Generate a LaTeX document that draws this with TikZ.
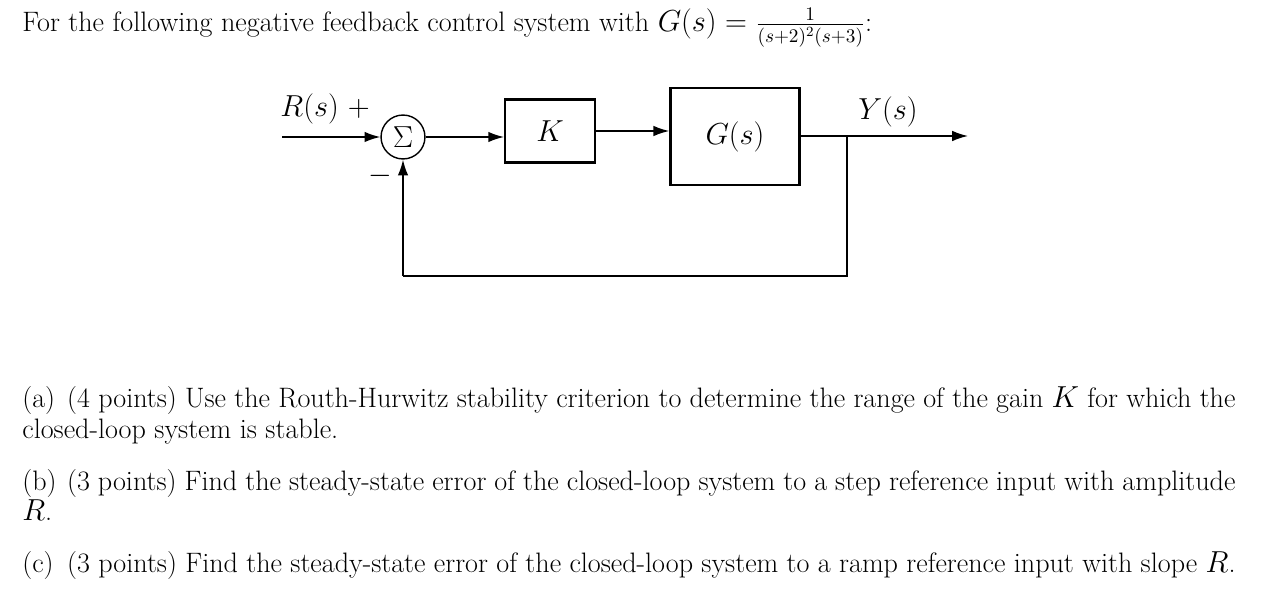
\documentclass[tikz,border=0pt]{standalone}
\usetikzlibrary{arrows.meta}
\newcommand{\qitem}[2]{\hangindent=25.5pt\hangafter=1\noindent\makebox[25.5pt][l]{#1}#2}
\begin{document}
\begin{tikzpicture}[x=0.02cm,y=-0.02cm,
  txt/.style={inner sep=0pt,font=\fontsize{16}{17.6}\selectfont},
  par/.style={txt,anchor=base west,text width=690.5pt,align=justify},
  blk/.style={draw,line width=1.3pt,inner sep=0pt},
  sig/.style={line width=0.9pt},
  arr/.style={sig,-{Latex[length=9pt,width=6pt]}},
  lab/.style={inner sep=0pt,font=\fontsize{17}{20}\selectfont}]
\useasboundingbox (0,0) rectangle (1270,597);
\node[txt,anchor=base west] (title) at (22,32) {For the following negative feedback control system with $G(s)=\frac{1}{(s+2)^2(s+3)}$:};
% diagram
\node[draw,circle,line width=0.8pt,minimum size=25pt,inner sep=0pt,lab] (sum) at (403,137) {$\Sigma$};
\node[blk,minimum width=51pt,minimum height=36pt,lab] (K) at (550,131) {$K$};
\node[blk,minimum width=73.5pt,minimum height=55pt,lab] (G) at (735,136.5) {$G(s)$};
\coordinate (in) at (282,137);
\coordinate (out) at (968,136);
\coordinate (br) at (847,136);
\coordinate (bot) at (847,276);
\coordinate (botl) at (403,276);
\draw[arr] (in) -- (sum);
\draw[arr] (sum.east) -- (K.west |- sum.east);
\draw[arr] (K.east) -- (G.west |- K.east);
\draw[arr] (G.east |- out) -- (out);
\draw[sig] (br) -- (bot) -- (botl);
\draw[arr] (botl) -- (sum);
\node[lab,anchor=base] (rl) at (325,117) {$R(s)$ $+$};
\node[lab,anchor=base] (yl) at (888,120) {$Y(s)$};
\node[lab,anchor=center] (mi) at (380,176) {$-$};
% questions
\node[par] (pa) at (22,408) {\qitem{(a)}{(4 points) Use the Routh-Hurwitz stability criterion to determine the range of the gain $K$ for which the\linebreak closed-loop system is stable.}};
\node[par] (pb) at (22,490) {\qitem{(b)}{(3 points) Find the steady-state error of the closed-loop system to a step reference input with amplitude\linebreak $R$.}};
\node[par] (pc) at (22,572) {\qitem{(c)}{(3 points) Find the steady-state error of the closed-loop system to a ramp reference input with slope $R$.}};
\end{tikzpicture}
\end{document}
